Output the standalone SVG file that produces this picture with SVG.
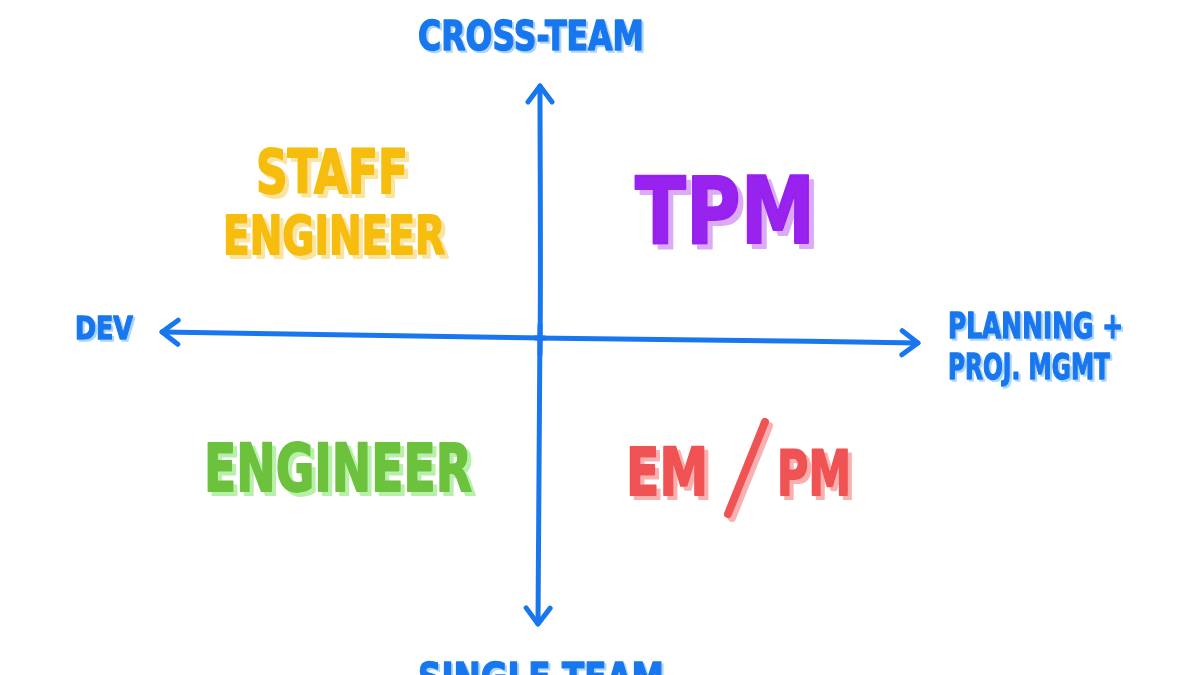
<svg xmlns="http://www.w3.org/2000/svg" width="1200" height="675" viewBox="0 0 1200 675">
<defs>
<style>
.axis{fill:none;stroke:#1877ee;stroke-width:5;stroke-linecap:round;stroke-linejoin:round}
.t{font-family:"DejaVu Sans","Liberation Sans",sans-serif;font-weight:bold;stroke-linejoin:round;stroke-linecap:round}
.blue{fill:#1877ee;stroke:#1877ee;stroke-width:1.5;filter:url(#shB)}
.yel{fill:#f6bd0f;stroke:#f6bd0f;stroke-width:2;filter:url(#shY)}
.pur{fill:#9820ee;stroke:#9820ee;stroke-width:2;filter:url(#shP)}
.grn{fill:#6cc23c;stroke:#6cc23c;stroke-width:2;filter:url(#shG)}
.red{fill:#f05252;stroke:#f05252;stroke-width:2;filter:url(#shR)}
</style>
<filter id="shB" x="-10%" y="-20%" width="130%" height="150%"><feOffset in="SourceAlpha" dx="2" dy="2" result="o"/><feFlood flood-color="#a9d6fb"/><feComposite in2="o" operator="in" result="s"/><feMerge><feMergeNode in="s"/><feMergeNode in="SourceGraphic"/></feMerge></filter>
<filter id="shY" x="-10%" y="-20%" width="130%" height="150%"><feOffset in="SourceAlpha" dx="4" dy="4" result="o"/><feFlood flood-color="#fbe3a0"/><feComposite in2="o" operator="in" result="s"/><feMerge><feMergeNode in="s"/><feMergeNode in="SourceGraphic"/></feMerge></filter>
<filter id="shP" x="-10%" y="-20%" width="130%" height="150%"><feOffset in="SourceAlpha" dx="5" dy="5" result="o"/><feFlood flood-color="#dcaaf7"/><feComposite in2="o" operator="in" result="s"/><feMerge><feMergeNode in="s"/><feMergeNode in="SourceGraphic"/></feMerge></filter>
<filter id="shG" x="-10%" y="-20%" width="130%" height="150%"><feOffset in="SourceAlpha" dx="4" dy="4" result="o"/><feFlood flood-color="#b7f0a8"/><feComposite in2="o" operator="in" result="s"/><feMerge><feMergeNode in="s"/><feMergeNode in="SourceGraphic"/></feMerge></filter>
<filter id="shR" x="-20%" y="-20%" width="140%" height="150%"><feOffset in="SourceAlpha" dx="4" dy="4" result="o"/><feFlood flood-color="#fbb0b0"/><feComposite in2="o" operator="in" result="s"/><feMerge><feMergeNode in="s"/><feMergeNode in="SourceGraphic"/></feMerge></filter>
<marker id="head" viewBox="-20 -15 25 30" markerWidth="25" markerHeight="30" refX="0" refY="0" orient="auto" markerUnits="userSpaceOnUse">
<path d="M-16,-12 L0,0 L-16,12" fill="none" stroke="#1877ee" stroke-width="5" stroke-linecap="round" stroke-linejoin="round"/>
</marker>
</defs>
<rect width="1200" height="675" fill="#ffffff"/>
<g id="connectors">
<path class="axis" d="M540,355 C541,260 540,170 540,86" marker-end="url(#head)"/>
<path class="axis" d="M540,325 C540,420 539,520 538,624" marker-end="url(#head)"/>
<path class="axis" d="M545,338 C420,336 290,334 162,332" marker-end="url(#head)"/>
<path class="axis" d="M535,338 C660,339 790,341 918,343" marker-end="url(#head)"/>
</g>
<g id="cross-team">
<text class="t blue" x="418" y="50" font-size="40" textLength="226" lengthAdjust="spacingAndGlyphs">CROSS-TEAM</text>
</g>
<g id="single-team">
<text class="t blue" x="418" y="692" font-size="40" textLength="246" lengthAdjust="spacingAndGlyphs">SINGLE TEAM</text>
</g>
<g id="dev">
<text class="t blue" x="75" y="339" font-size="32" textLength="58" lengthAdjust="spacingAndGlyphs">DEV</text>
</g>
<g id="planning">
<text class="t blue" x="948" y="338" font-size="36" textLength="175" lengthAdjust="spacingAndGlyphs">PLANNING +</text>
<text class="t blue" x="948" y="379" font-size="36" textLength="162" lengthAdjust="spacingAndGlyphs">PROJ. MGMT</text>
</g>
<g id="staff-engineer">
<text class="t yel" x="256" y="193" font-size="60" textLength="152" lengthAdjust="spacingAndGlyphs">STAFF</text>
<text class="t yel" x="223" y="254" font-size="54" textLength="222" lengthAdjust="spacingAndGlyphs">ENGINEER</text>
</g>
<g id="tpm">
<text class="t pur" x="635" y="243" font-size="92" textLength="180" lengthAdjust="spacingAndGlyphs">TPM</text>
</g>
<g id="engineer">
<text class="t grn" x="204" y="491" font-size="66" textLength="268" lengthAdjust="spacingAndGlyphs">ENGINEER</text>
</g>
<g id="em-pm">
<text class="t red" x="626" y="495" font-size="66" textLength="82" lengthAdjust="spacingAndGlyphs">EM</text>
<path d="M765,422 L728,514" fill="none" stroke="#f05252" stroke-width="8" stroke-linecap="round" filter="url(#shR)"/>
<text class="t red" x="777" y="495" font-size="62" textLength="74" lengthAdjust="spacingAndGlyphs">PM</text>
</g>
</svg>
